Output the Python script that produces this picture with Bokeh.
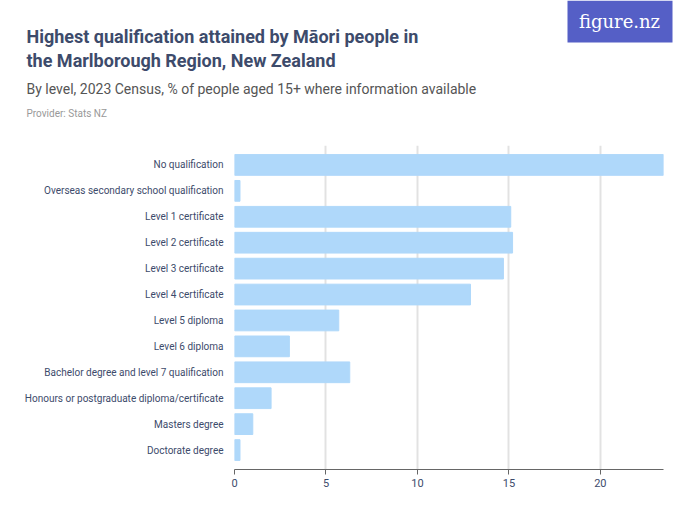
from bokeh.plotting import figure
from bokeh.layouts import column, row
from bokeh.models import FactorRange, Range1d, FixedTicker
from bokeh.core.properties import value
from bokeh.embed import file_html
from bokeh.resources import INLINE

categories = [
    "No qualification",
    "Overseas secondary school qualification",
    "Level 1 certificate",
    "Level 2 certificate",
    "Level 3 certificate",
    "Level 4 certificate",
    "Level 5 diploma",
    "Level 6 diploma",
    "Bachelor degree and level 7 qualification",
    "Honours or postgraduate diploma/certificate",
    "Masters degree",
    "Doctorate degree",
]
percent = [23.5, 0.3, 15.1, 15.2, 14.7, 12.9, 5.7, 3.0, 6.3, 2.0, 1.0, 0.3]
x_ticks = [0, 5, 10, 15, 20]

title_lines = [
    "Highest qualification attained by M\u0101ori people in",
    "the Marlborough Region, New Zealand",
]
subtitle = "By level, 2023 Census, % of people aged 15+ where information available"
provider = "Provider: Stats NZ"

FONT = "Roboto"
TEXT_DARK = "#3d4b6b"

# ---- header: title block and logo, drawn in pixel-like coordinates ----
head = figure(width=700, height=145, x_range=Range1d(0, 700), y_range=Range1d(145, 0),
              x_axis_type=None, y_axis_type=None, output_backend="svg",
              toolbar_location=None, min_border=0)
head.outline_line_color = None
head.grid.grid_line_color = None

head.text(x=[26, 26], y=[36, 60], text=title_lines, text_baseline="alphabetic",
          text_font=value(FONT), text_font_size="18px", text_font_style="bold",
          text_color=TEXT_DARK)
head.text(x=[26], y=[88], text=[subtitle], text_baseline="alphabetic",
          text_font=value(FONT), text_font_size="14px", text_color="#555555")
head.text(x=[26], y=[113], text=[provider], text_baseline="alphabetic",
          text_font=value(FONT), text_font_size="10px", text_color="#999999")

head.quad(left=[567], right=[672], top=[0], bottom=[42], fill_color="#555fc6", line_color=None)
head.text(x=[619], y=[21], text=["figure.nz"], text_align="center", text_baseline="middle",
          text_font=value("DejaVu Serif"), text_font_size="18px", text_color="white")

# ---- bar chart ----
p = figure(
    width=700, height=380,
    y_range=FactorRange(*reversed(categories), range_padding=0.25, range_padding_units="absolute"),
    x_range=Range1d(0, 23.45),
    output_backend="svg", toolbar_location=None,
    min_border_left=234, min_border_right=37, min_border_top=0, min_border_bottom=56,
)
p.outline_line_color = None

p.hbar(y=categories, right=percent, left=0, height=0.8, color="#afd8fa")

p.xaxis.ticker = FixedTicker(ticks=x_ticks)
p.xaxis.axis_line_color = "#666666"
p.xaxis.major_tick_line_color = "#666666"
p.xaxis.major_tick_out = 5
p.xaxis.major_tick_in = 0
p.xaxis.minor_tick_line_color = None
p.xaxis.major_label_text_font = FONT
p.xaxis.major_label_text_font_size = "11px"
p.xaxis.major_label_text_color = TEXT_DARK
p.xaxis.major_label_standoff = 4

p.yaxis.axis_line_color = None
p.yaxis.major_tick_line_color = None
p.yaxis.minor_tick_line_color = None
p.yaxis.major_label_text_font = FONT
p.yaxis.major_label_text_font_size = "10px"
p.yaxis.major_label_text_color = TEXT_DARK
p.yaxis.major_label_standoff = 5

p.xgrid.grid_line_color = "#e2e2e2"
p.xgrid.grid_line_width = 2
p.ygrid.grid_line_color = None

# each figure in its own row so their frames are laid out independently
layout = column(row(head), row(p), spacing=0)
open("out.html", "w").write(file_html(layout, INLINE))
